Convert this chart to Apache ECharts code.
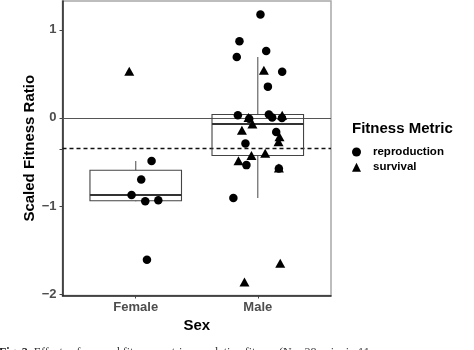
<!DOCTYPE html>
<html>
<head>
<meta charset="utf-8">
<script src="https://cdn.jsdelivr.net/npm/echarts@6/dist/echarts.min.js"></script>
<style>
html,body{margin:0;padding:0;background:#fff;}
#chart{width:474px;height:350px;}
</style>
</head>
<body>
<div id="chart"></div>
<script>
// ---- data ----
const sexLabels = ['Female', 'Male'];
const yTickValues = [-2, -1, 0, 1];
const refLineSolid = 0;
const refLineDashed = -0.355;

// jittered x positions (1 = Female, 2 = Male) and scaled fitness ratio values
const femaleReproX = [1.13, 1.045, 0.966, 1.078, 1.185, 1.092];
const femaleReproY = [-0.49, -0.70, -0.875, -0.947, -0.935, -1.61];
const femaleSurvX = [0.947];
const femaleSurvY = [0.53];

const maleReproX = [2.022, 1.85, 1.828, 2.069, 2.20, 2.083, 1.837, 2.091, 2.118, 2.198, 2.151, 1.899, 1.907, 2.173, 1.80, 1.93];
const maleReproY = [1.174, 0.869, 0.691, 0.759, 0.525, 0.355, 0.03, 0.038, 0.004, 0.0, -0.16, -0.29, -0.536, -0.575, -0.909, -0.01];
const maleSurvX = [2.05, 1.924, 1.956, 1.87, 2.20, 2.178, 2.17, 1.842, 1.948, 2.061, 2.173, 2.184, 1.891];
const maleSurvY = [0.54, 0.004, -0.07, -0.14, 0.03, -0.215, -0.27, -0.487, -0.426, -0.40, -0.57, -1.649, -1.864];

// ---- helpers ----
function zip(xs, ys) { return xs.map((x, i) => [x, ys[i]]); }
function quantile7(sorted, p) {
  const h = (sorted.length - 1) * p;
  const lo = Math.floor(h), hi = Math.ceil(h);
  return sorted[lo] + (h - lo) * (sorted[hi] - sorted[lo]);
}
function boxStats(pos, values) {
  const s = values.slice().sort((a, b) => a - b);
  const q1 = quantile7(s, 0.25), med = quantile7(s, 0.5), q3 = quantile7(s, 0.75);
  const iqr = q3 - q1;
  const inside = s.filter(v => v >= q1 - 1.5 * iqr && v <= q3 + 1.5 * iqr);
  return [pos, q1, med, q3, inside[0], inside[inside.length - 1]];
}

const boxData = [
  boxStats(1, femaleReproY.concat(femaleSurvY)),
  boxStats(2, maleReproY.concat(maleSurvY))
];
const boxWidth = 0.75;

const FONT = '"Liberation Sans", Arial, Helvetica, sans-serif';

function renderBox(params, api) {
  const x = api.value(0), q1 = api.value(1), med = api.value(2), q3 = api.value(3), lo = api.value(4), hi = api.value(5);
  const h = boxWidth / 2;
  const tl = api.coord([x - h, q3]);
  const br = api.coord([x + h, q1]);
  const mL = api.coord([x - h, med]);
  const mR = api.coord([x + h, med]);
  const pHi = api.coord([x, hi]);
  const pQ3 = api.coord([x, q3]);
  const pQ1 = api.coord([x, q1]);
  const pLo = api.coord([x, lo]);
  return {
    type: 'group',
    children: [
      { type: 'line', shape: { x1: pHi[0], y1: pHi[1], x2: pQ3[0], y2: pQ3[1] }, style: { stroke: '#666', lineWidth: 1.2 } },
      { type: 'line', shape: { x1: pQ1[0], y1: pQ1[1], x2: pLo[0], y2: pLo[1] }, style: { stroke: '#666', lineWidth: 1.2 } },
      { type: 'rect', shape: { x: tl[0], y: tl[1], width: br[0] - tl[0], height: br[1] - tl[1] }, style: { fill: 'none', stroke: '#444', lineWidth: 1.1 } },
      { type: 'line', shape: { x1: mL[0], y1: mL[1], x2: mR[0], y2: mR[1] }, style: { stroke: '#333', lineWidth: 2 } }
    ]
  };
}

const chart = echarts.init(document.getElementById('chart'), null, { renderer: 'canvas' });

const option = {
  animation: false,
  backgroundColor: '#fff',
  grid: {
    left: 62.5, right: 143, top: 1, bottom: 54.5,
    show: true, borderColor: '#a8a8a8', borderWidth: 1.5, backgroundColor: 'transparent'
  },
  xAxis: {
    type: 'value', min: 0.4, max: 2.6,
    name: 'Sex', nameLocation: 'middle', nameGap: 23, nameMoveOverlap: false,
    nameTextStyle: { fontFamily: FONT, fontWeight: 'bold', fontSize: 15, color: '#000' },
    splitLine: { show: false },
    axisLine: { show: true, onZero: false, lineStyle: { color: '#222', width: 1.5 } },
    axisTick: { show: true, customValues: [1, 2], length: 3, lineStyle: { color: '#444', width: 1 } },
    axisLabel: {
      customValues: [1, 2], margin: 5,
      formatter: v => sexLabels[Math.round(v) - 1],
      fontFamily: FONT, fontWeight: 'bold', fontSize: 13, color: '#4d4d4d'
    }
  },
  yAxis: {
    type: 'value', min: -2.016, max: 1.327,
    name: 'Scaled Fitness Ratio', nameLocation: 'middle', nameGap: 25, nameRotate: 90, nameMoveOverlap: false,
    nameTextStyle: { fontFamily: FONT, fontWeight: 'bold', fontSize: 15, color: '#000' },
    splitLine: { show: false },
    axisLine: { show: true, onZero: false, lineStyle: { color: '#222', width: 1.5 } },
    axisTick: { show: true, customValues: yTickValues.concat([refLineDashed]), length: 3, lineStyle: { color: '#444', width: 1 } },
    axisLabel: {
      customValues: yTickValues, margin: 6,
      formatter: v => String(v).replace('-', '\u2212'),
      fontFamily: FONT, fontWeight: 'bold', fontSize: 13, color: '#4d4d4d'
    }
  },
  legend: {
    orient: 'vertical', left: 347, top: 140.5,
    itemWidth: 9, itemHeight: 9, itemGap: 2.3,
    textStyle: { fontFamily: FONT, fontWeight: 'bold', fontSize: 11.5, color: '#000', lineHeight: 13, padding: [0, 0, 0, 7] },
    data: [
      { name: 'reproduction', icon: 'circle' },
      { name: 'survival', icon: 'triangle' }
    ]
  },
  graphic: [
    {
      type: 'text', left: 352, top: 121,
      style: { text: 'Fitness Metric', fontFamily: FONT, fontWeight: 'bold', fontSize: 15, fill: '#000' }
    },
    {
      type: 'text', left: -1, top: 346.5,
      style: {
        text: '{b|Fig. 2}  Effects of sex and fitness metric on relative fitness (N = 38 pairs in 11',
        rich: { b: { fontFamily: '"Liberation Serif", serif', fontWeight: 'bold', fontSize: 12, fill: '#222' } },
        fontFamily: '"Liberation Serif", serif', fontSize: 12, fill: '#333'
      }
    }
  ],
  series: [
    {
      type: 'custom', name: 'box', z: 2, silent: true,
      renderItem: renderBox,
      data: boxData,
      encode: { x: 0, y: [1, 2, 3, 4, 5] },
      markLine: {
        silent: true, symbol: 'none', z: 1,
        label: { show: false },
        data: [
          { yAxis: refLineSolid, lineStyle: { type: 'solid', color: '#555', width: 1 } },
          { yAxis: refLineDashed, lineStyle: { type: [4, 3], color: '#111', width: 1.3 } }
        ]
      }
    },
    {
      type: 'scatter', name: 'reproduction', z: 5,
      symbol: 'circle', symbolSize: 8.5,
      itemStyle: { color: '#000', opacity: 1 },
      data: zip(femaleReproX, femaleReproY).concat(zip(maleReproX, maleReproY))
    },
    {
      type: 'scatter', name: 'survival', z: 5,
      symbol: 'triangle', symbolSize: [10, 9],
      itemStyle: { color: '#000', opacity: 1 },
      data: zip(femaleSurvX, femaleSurvY).concat(zip(maleSurvX, maleSurvY))
    }
  ]
};

chart.setOption(option);
</script>
</body>
</html>
